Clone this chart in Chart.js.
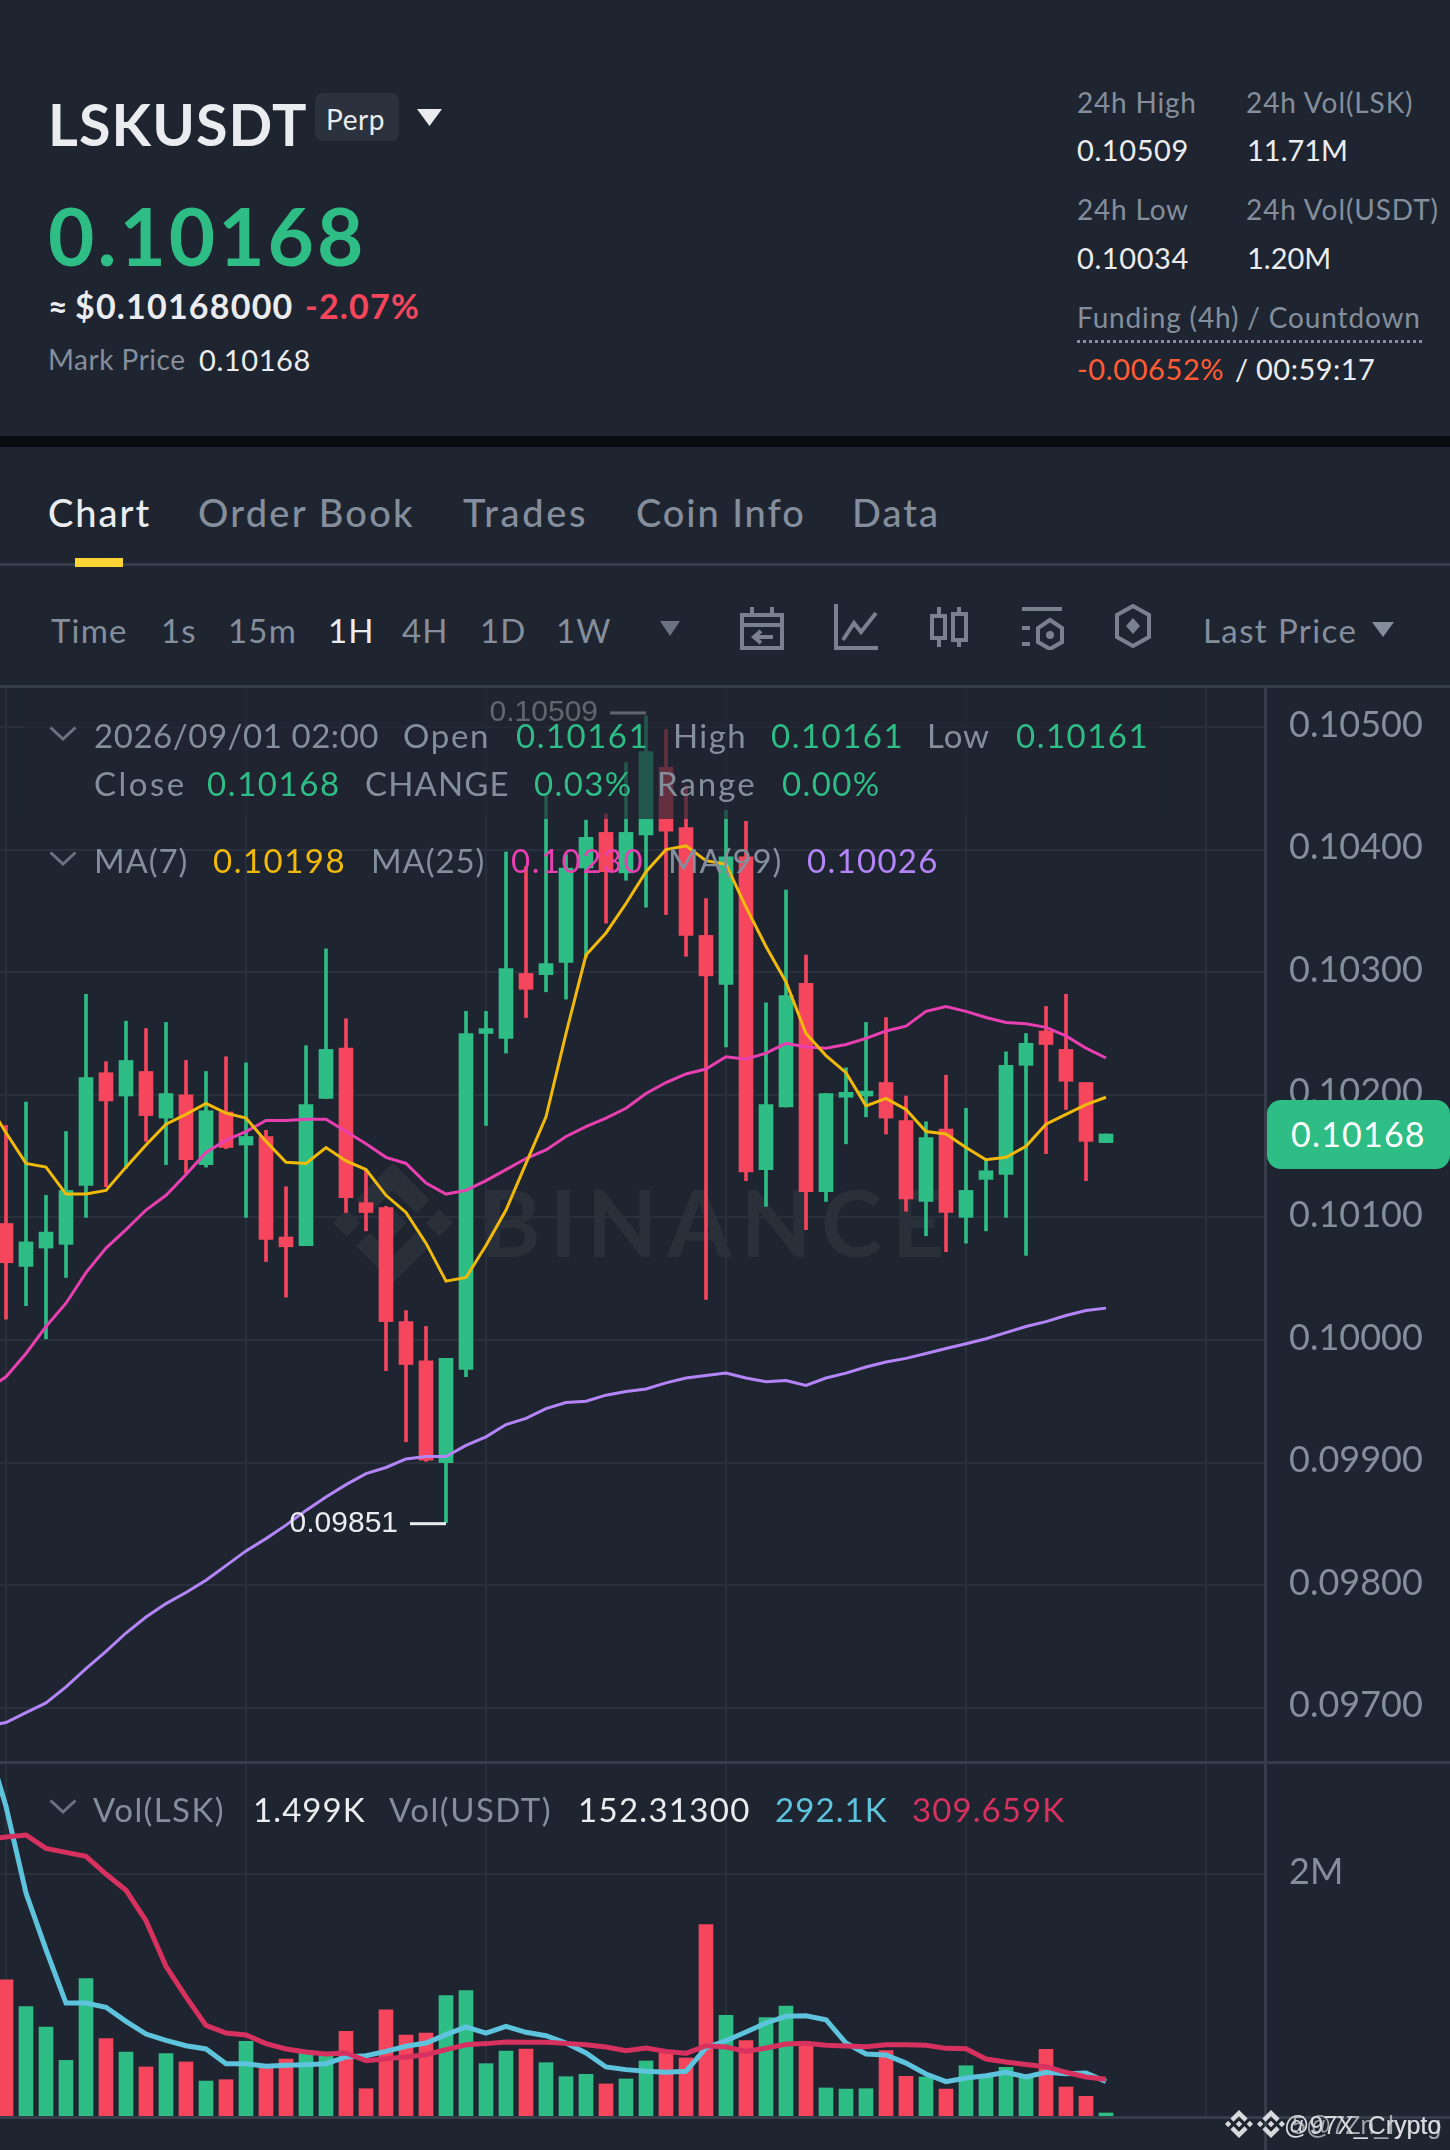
<!DOCTYPE html>
<html><head><meta charset="utf-8">
<script src="https://cdn.jsdelivr.net/npm/chart.js@4"></script>
<style>
html,body{margin:0;padding:0;background:#1f2530;width:1450px;height:2150px;overflow:hidden;font-family:Lato,sans-serif}
#root{position:relative;width:1450px;height:2150px;overflow:hidden;background:#1f2530}
.t{position:absolute;white-space:nowrap;line-height:1;transform:translateY(-50%)}
.b{position:absolute}
canvas{position:absolute;display:block}
</style></head><body><div id="root">
<svg class="b" style="left:333px;top:1163px;width:120px;height:120px" viewBox="0 0 126.61 126.61" fill="#2a303a"><path d="M38.73 53.2l24.59-24.58 24.6 24.6 14.3-14.31L63.32 0 24.42 38.9z"/><path d="M0 63.31l14.3-14.31 14.31 14.31-14.31 14.3z"/><path d="M38.73 73.41l24.59 24.59 24.6-24.6 14.31 14.29-38.9 38.91-38.91-38.88z"/><path d="M98 63.31l14.3-14.31 14.31 14.31-14.31 14.3z"/><path d="M77.83 63.3L63.32 48.78 52.59 59.51l-1.24 1.23-2.54 2.54 14.51 14.5 14.51-14.52z"/></svg>
<div class="t" style="left:480px;top:1222px;font-size:92px;font-weight:700;color:#2a303a;letter-spacing:9.5px">BINANCE</div>
<canvas id="price" width="1450" height="1075" style="left:0;top:687px;width:1450px;height:1075px"></canvas>
<canvas id="vol" width="1450" height="355" style="left:0;top:1762px;width:1450px;height:355px"></canvas>
</div>
<script>
const hourIndex = Array.from({length:56},(_,i)=>i);
const gridIndex = [0,12,24,36,48,60];
const priceTicks = [0.097,0.098,0.099,0.100,0.101,0.102,0.103,0.104,0.105];
const volTicks = [2];
const opens = [.10095,.10060,.10075,.10078,.10126,.10218,.10199,.10219,.10181,.10200,.10143,.10186,.10159,.10166,.10084,.10077,.10197,.10238,.10112,.10108,.10015,.09983,.09900,.09976,.10250,.10246,.10299,.10298,.10308,.10385,.10414,.10381,.10412,.10467,.10418,.10330,.10290,.10394,.10139,.10190,.10291,.10121,.10198,.10199,.10210,.10179,.10113,.10172,.10100,.10131,.10135,.10224,.10252,.10237,.10210,.10161];
const closes = [.10063,.10080,.10088,.10122,.10214,.10195,.10228,.10183,.10201,.10147,.10187,.10157,.10166,.10082,.10076,.10192,.10237,.10116,.10104,.10015,.09980,.09902,.09985,.10250,.10254,.10303,.10286,.10307,.10385,.10410,.10382,.10414,.10480,.10415,.10330,.10297,.10394,.10137,.10192,.10281,.10121,.10201,.10202,.10203,.10181,.10115,.10165,.10104,.10122,.10138,.10224,.10242,.10241,.10211,.10162,.10168];
const highs = [.10175,.10194,.10118,.10170,.10282,.10227,.10260,.10254,.10259,.10228,.10219,.10231,.10226,.10171,.10125,.10240,.10319,.10262,.10139,.10109,.10024,.10011,.09985,.10268,.10268,.10398,.10386,.10444,.10396,.10424,.10429,.10471,.10509,.10498,.10452,.10360,.10432,.10423,.10275,.10367,.10314,.10201,.10222,.10259,.10263,.10199,.10178,.10216,.10189,.10147,.10235,.10250,.10272,.10282,.10210,.10168];
const lows = [.10017,.10028,.10001,.10051,.10100,.10125,.10140,.10162,.10143,.10136,.10141,.10156,.10100,.10064,.10035,.10077,.10197,.10104,.10089,.09975,.09917,.09901,.09851,.09970,.10175,.10234,.10263,.10284,.10278,.10312,.10340,.10375,.10353,.10347,.10313,.10033,.10239,.10130,.10109,.10190,.10090,.10113,.10160,.10182,.10168,.10105,.10085,.10072,.10079,.10089,.10100,.10069,.10152,.10188,.10130,.10161];
// moving averages: the first entry lies one candle left of the visible edge
const ma7 = [.10196,.10169,.10144,.10141,.10119,.10119,.10122,.10141,.10159,.10176,.10184,.10193,.10185,.10181,.10162,.10145,.10144,.10157,.10146,.10139,.10118,.10104,.10079,.10048,.10051,.10077,.10106,.10144,.10182,.10250,.10314,.10332,.10356,.10382,.10400,.10403,.10391,.10388,.10353,.10321,.10292,.10250,.10232,.10218,.10191,.10197,.10188,.10170,.10168,.10157,.10147,.10149,.10158,.10176,.10184,.10192,.10198];
const ma25 = [.09959,.09970,.09989,.10011,.10030,.10055,.10075,.10090,.10106,.10118,.10135,.10153,.10163,.10170,.10179,.10179,.10180,.10180,.10170,.10160,.10149,.10144,.10128,.10119,.10122,.10130,.10139,.10148,.10155,.10166,.10174,.10181,.10189,.10201,.10210,.10217,.10221,.10231,.10229,.10234,.10242,.10239,.10238,.10241,.10246,.10252,.10256,.10268,.10272,.10268,.10263,.10259,.10258,.10255,.10248,.10238,.10230];
const ma99 = [.09685,.09688,.09696,.09704,.09717,.09732,.09746,.09761,.09774,.09785,.09794,.09804,.09816,.09828,.09838,.09849,.09861,.09872,.09882,.09891,.09896,.09903,.09905,.09905,.09914,.09921,.09931,.09936,.09944,.09949,.09950,.09955,.09958,.09960,.09965,.09969,.09971,.09973,.09969,.09966,.09967,.09963,.09969,.09973,.09978,.09982,.09985,.09989,.09993,.09997,.10001,.10006,.10011,.10015,.10020,.10024,.10026];
const volumes = [1.130,.908,.741,.466,1.139,.645,.535,.412,.521,.453,.296,.307,.623,.403,.477,.527,.513,.705,.233,.883,.675,.691,.999,1.040,.439,.543,.560,.447,.332,.351,.272,.313,.461,.527,.486,1.583,.837,.628,.818,.914,.595,.239,.230,.233,.546,.335,.329,.230,.422,.335,.409,.348,.557,.247,.170,.033];
const volMa5 = [3.11,2.557,1.844,1.377,.938,.938,.903,.787,.683,.631,.587,.560,.439,.439,.417,.425,.431,.439,.494,.505,.540,.582,.609,.678,.741,.691,.746,.697,.669,.609,.527,.412,.390,.376,.368,.376,.568,.628,.700,.774,.829,.834,.801,.609,.519,.510,.444,.354,.291,.321,.340,.368,.329,.368,.357,.362,.292];
const volMa10 = [2.283,2.305,2.321,2.211,2.178,2.145,2.000,1.866,1.616,1.240,.988,.754,.691,.675,.604,.560,.535,.519,.527,.464,.480,.494,.513,.554,.595,.604,.617,.615,.615,.606,.595,.576,.546,.568,.540,.524,.587,.576,.540,.568,.601,.606,.590,.584,.579,.595,.595,.590,.565,.562,.477,.453,.433,.414,.368,.329,.310];
const lastPrice = 0.10168, topMark = 0.10509, lowMark = 0.09851;

const GREEN='#2ebd85', RED='#f6465d', GRID='#2a303b', AXIS='#363d4a', TICK='#848e9c';
const dir = hourIndex.map(i=>closes[i]>=opens[i]?GREEN:RED);
const lineFrom = arr => arr.map((v,i)=>({x:i-1,y:v}));

function xAxis(){return {type:'linear',offset:false,min:-0.3,max:62.95,
  afterBuildTicks:s=>{s.ticks=gridIndex.map(v=>({value:v}))},
  afterFit:s=>{s.height=0;s.paddingLeft=0;s.paddingRight=0;s.paddingTop=0;s.paddingBottom=0},
  ticks:{display:false},grid:{color:GRID,lineWidth:2,drawTicks:false,offset:false},border:{display:false}};}
function yAxis(ticks,min,max,fmt){return {type:'linear',position:'right',min,max,
  afterBuildTicks:s=>{s.ticks=ticks.map(v=>({value:v}))},
  afterFit:s=>{s.width=185;s.paddingTop=0;s.paddingBottom=0;s.paddingLeft=0;s.paddingRight=0},
  grid:{color:GRID,lineWidth:2,drawTicks:false},
  border:{display:true,color:AXIS,width:3},
  ticks:{color:TICK,font:{family:'Lato',size:36},padding:24,align:'center',crossAlign:'near',labelOffset:-2,callback:fmt}};}

const marks = {id:'marks',afterDatasetsDraw(c){
  const g=c.ctx,x=c.scales.x,y=c.scales.y;
  const put=(i,v,color)=>{const px=x.getPixelForValue(i),py=y.getPixelForValue(v)+(v===topMark?-3:1);
    g.save();g.fillStyle=color;g.fillRect(px-36,py-1.5,36,3);
    g.font='30px "Liberation Sans"';g.textAlign='right';g.textBaseline='middle';g.fillText(v.toFixed(5),px-48,py);g.restore();};
  put(hourIndex[32],topMark,'#eaecef');put(hourIndex[22],lowMark,'#eaecef');
}};

new Chart(document.getElementById('price'),{type:'bar',plugins:[marks],data:{datasets:[
  {type:'line',label:'MA7',data:lineFrom(ma7),borderColor:'#f0b90b',borderWidth:3,pointRadius:0,tension:0,order:0},
  {type:'line',label:'MA25',data:lineFrom(ma25),borderColor:'#e83fb1',borderWidth:3,pointRadius:0,tension:0,order:0},
  {type:'line',label:'MA99',data:lineFrom(ma99),borderColor:'#b385f8',borderWidth:3,pointRadius:0,tension:0,order:0},
  {label:'body',data:hourIndex.map(i=>({x:i,y:[opens[i],closes[i]]})),backgroundColor:dir,barThickness:14,grouped:false,order:1},
  {label:'wick',data:hourIndex.map(i=>({x:i,y:[lows[i],highs[i]]})),backgroundColor:dir,barThickness:3,grouped:false,order:2}
]},options:{responsive:false,animation:false,devicePixelRatio:1,layout:{padding:0},
  plugins:{legend:{display:false},tooltip:{enabled:false}},
  scales:{x:xAxis(),y:yAxis(priceTicks,0.096558,0.105326,v=>Number(v).toFixed(5))}}});

new Chart(document.getElementById('vol'),{type:'bar',data:{datasets:[
  {type:'line',label:'MA5',data:lineFrom(volMa5),borderColor:'#5ec4dd',borderWidth:5,pointRadius:0,tension:0,order:1},
  {type:'line',label:'MA10',data:lineFrom(volMa10),borderColor:'#d6315f',borderWidth:5,pointRadius:0,tension:0,order:0},
  {label:'vol',data:hourIndex.map(i=>({x:i,y:volumes[i]})),backgroundColor:dir,barThickness:14,order:2}
]},options:{responsive:false,animation:false,devicePixelRatio:1,layout:{padding:0},
  plugins:{legend:{display:false},tooltip:{enabled:false}},
  scales:{x:xAxis(),y:yAxis(volTicks,0,2.922,v=>v+'M')}}});

// page furniture
const root=document.getElementById('root');
function box(l,t,w,h,css){const d=document.createElement('div');d.className='b';d.style.cssText=`left:${l}px;top:${t}px;width:${w}px;height:${h}px;${css||''}`;root.appendChild(d);return d;}
function txt(x,cy,s,size,color,weight,ls,extra){const d=document.createElement('div');d.className='t';d.textContent=s;d.style.cssText=`left:${x}px;top:${cy}px;font-size:${size}px;color:${color};font-weight:${weight||400};letter-spacing:${ls||0}px;${extra||''}`;root.appendChild(d);return d;}
function svg(l,t,w,h,inner,vb){const d=document.createElement('div');d.className='b';d.style.cssText=`left:${l}px;top:${t}px;width:${w}px;height:${h}px`;d.innerHTML=`<svg width="${w}" height="${h}" viewBox="${vb||`0 0 ${w} ${h}`}">${inner}</svg>`;root.appendChild(d);}
const tri=(l,t,w,h,c)=>svg(l,t,w,h,`<path d="M0 0H${w}L${w/2} ${h}Z" fill="${c}"/>`);
const chev=(l,t)=>svg(l,t,28,15,`<path d="M1.5 1.5L14 13L26.5 1.5" fill="none" stroke="#6b7380" stroke-width="3"/>`);
const W='#eaecef',G='#848e9c';

// header
box(0,436,1450,11,'background:#0a0d10');
txt(48,124,'LSKUSDT',57.5,W,700,1.1);
box(315,93,84,48,'background:#2b313d;border-radius:8px');
txt(326,119,'Perp',28,W,400,.6);
tri(417,109,25,17,W);
txt(48,235,'0.10168',80,GREEN,700,3);
txt(48,306,'≈',34,W,700);
txt(75,306,'$0.10168000',34,W,700,1.2);
txt(305,306,'-2.07%',34,RED,700,1.2);
txt(48,359,'Mark Price',28,G,400,.5);
txt(199,359,'0.10168',29,W,400,.6);
txt(1077,102,'24h High',28,G,400,.8);txt(1246,102,'24h Vol(LSK)',28,G,400,.9);
txt(1077,149,'0.10509',29,W,400,.6);txt(1247,149,'11.71M',29,W);
txt(1077,209,'24h Low',28,G,400,.8);txt(1246,209,'24h Vol(USDT)',28,G,400,.9);
txt(1077,257,'0.10034',29,W,400,.6);txt(1247,257,'1.20M',29,W);
txt(1077,317,'Funding (4h) / Countdown',28,G,400,.85);
box(1077,340,345,0,'border-top:3px dotted #848e9c');
txt(1077,368,'-0.00652%',29,'#ff5c35',400,.6);
txt(1235,368,'/',29,W);
txt(1256,368,'00:59:17',29,W,400,.5);

// tabs
const TS=38,TW=500;
txt(48,512,'Chart',TS,W,TW,2);txt(198,512,'Order Book',TS,G,TW,2.2);txt(463,512,'Trades',TS,G,TW,2.7);txt(636,512,'Coin Info',TS,G,TW,1.9);txt(852,512,'Data',TS,G,TW,2);
box(0,563,1450,3,'background:#363d4a');
box(75,558,48,9,'background:#fcd535');
const T='#848e9c',TB=1.2;
txt(51,630,'Time',33,T,400,TB);txt(161,630,'1s',33,T,400,TB);txt(228,630,'15m',33,T,400,TB);txt(328,630,'1H',33,W,400,TB);txt(402,630,'4H',33,T,400,TB);txt(480,630,'1D',33,T,400,TB);txt(556,630,'1W',33,T,400,TB);
tri(660,620,20,15,'#6b7380');
const ic='fill="none" stroke="#7a818e" stroke-width="4"';
svg(740,606,44,44,`<rect x="2" y="9" width="40" height="33" ${ic}/><path d="M12 1v8M32 1v8M2 19h40M33 31H14M21 25l-7 6 7 6" ${ic}/>`);
svg(834,604,44,46,`<path d="M2 0V44H44" ${ic}/><path d="M9 36l11-17 7 9 15-19" ${ic}/>`);
svg(928,607,42,42,`<path d="M11 0v8M31 0v8M11 32v8M31 32v8" ${ic}/><rect x="4" y="9" width="13" height="22" ${ic}/><rect x="25" y="7" width="13" height="26" ${ic}/>`);
svg(1020,606,44,44,`<path d="M2 3h40M2 22h8M2 38h8" ${ic}/><path d="M30 14l12 8v14l-12 7-12-7V22z" ${ic}/><circle cx="30" cy="29" r="4" fill="#7a818e"/>`);
svg(1115,604,36,44,`<path d="M18 2l16 9v22l-16 9-16-9V11z" ${ic}/><path d="M18 14l7 8-7 8-7-8z" fill="#7a818e"/>`);
txt(1203,630,'Last Price',33,T,400,1.4);
tri(1372,621,22,15,'#848e9c');

// pane borders
box(0,685,1450,3,'background:#363d4a');
box(0,1761,1450,3,'background:#363d4a');
box(0,2116,1450,3,'background:#363d4a');
box(1264,685,3,1465,'background:#363d4a');

// legend overlay that dims what is behind the first two rows
box(24,688,1136,131,'background:rgba(31,37,48,.68)');
chev(49,725);chev(49,850);chev(49,1798);
const LS=33;
const lg=(x,y,s,c,l)=>txt(x,y,s,LS,c,400,l===undefined?.9:l);
lg(94,735,'2026/09/01 02:00',G,.55);lg(403,735,'Open',G,1.7);lg(516,735,'0.10161',GREEN,1.5);lg(673,735,'High',G,1.4);lg(771,735,'0.10161',GREEN,1.5);lg(927,735,'Low',G);lg(1016,735,'0.10161',GREEN,1.5);
lg(94,783,'Close',G,2.5);lg(207,783,'0.10168',GREEN,1.6);lg(365,783,'CHANGE',G,1.1);lg(534,783,'0.03%',GREEN,1.4);lg(657,783,'Range',G,2);lg(782,783,'0.00%',GREEN,1.4);
lg(94,860,'MA(7)',G);lg(213,860,'0.10198','#f0b90b',1.5);lg(371,860,'MA(25)',G);lg(511,860,'0.10230','#e83fb1',1.5);lg(668,860,'MA(99)',G);lg(807,860,'0.10026','#b385f8',1.3);
lg(93,1809,'Vol(LSK)',G,1.4);lg(253,1809,'1.499K',W,1.1);lg(389,1809,'Vol(USDT)',G,1.5);lg(578,1809,'152.31300',W,1.3);lg(775,1809,'292.1K','#5ec4dd',1.1);lg(912,1809,'309.659K','#d6315f',1.1);

// last price tag
box(1267,1100,183,69,'background:#2ebd85;border-radius:14px');
txt(1291,1134,'0.10168',34,'#ffffff',400,1.2);

// corner credit
const logo='<path d="M38.73 53.2l24.59-24.58 24.6 24.6 14.3-14.31L63.32 0 24.42 38.9z"/><path d="M0 63.31l14.3-14.31 14.31 14.31-14.31 14.3z"/><path d="M38.73 73.41l24.59 24.59 24.6-24.6 14.31 14.29-38.9 38.91-38.91-38.88z"/><path d="M98 63.31l14.3-14.31 14.31 14.31-14.31 14.3z"/><path d="M77.83 63.3L63.32 48.78 52.59 59.51l-1.24 1.23-2.54 2.54 14.51 14.5 14.51-14.52z"/>';
svg(1225,2110,28,28,`<g fill="#d8dade">${logo}</g>`,'0 0 126.61 126.61');
svg(1257,2110,28,28,`<g fill="#d8dade">${logo}</g>`,'0 0 126.61 126.61');
txt(1284,2125,'@97X_Crypto',25,'#d8dade',400,0,'font-family:"Liberation Sans"');
txt(1292,2125,'5@7Zn_lyptg',25,'#d8dade',400,0,'font-family:"Liberation Sans";opacity:.7');
</script></body></html>
